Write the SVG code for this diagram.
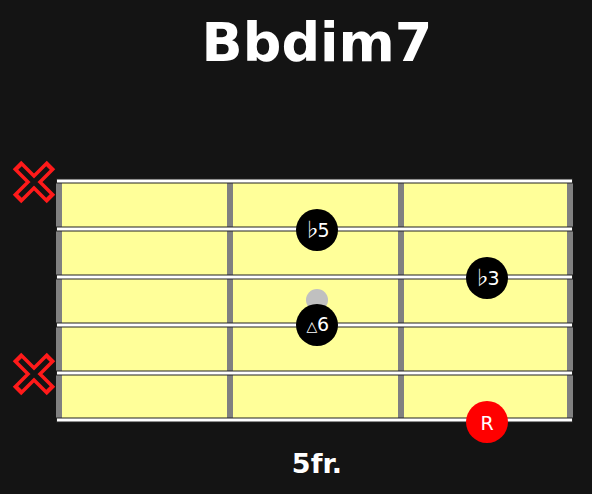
<svg xmlns="http://www.w3.org/2000/svg" width="592" height="494" viewBox="0 0 592 494">
<style>
.title{font-family:"DejaVu Sans",sans-serif;font-weight:bold;fill:#ffffff;text-anchor:middle}
.fret{fill:#808080}
.str{fill:#ffffff;stroke:#222222;stroke-width:1}
.note{fill:#000000}
.root{fill:#ff0000}
.lbl{font-family:"DejaVu Sans",sans-serif;font-size:19px;fill:#ffffff;text-anchor:middle}
.flat{font-family:"Noto Sans CJK JP","DejaVu Sans",sans-serif;font-size:19px;letter-spacing:-4px}
.tri{font-size:14px}
.xo{stroke:#ff1a1a;stroke-width:12;fill:none}
.xi{stroke:#141414;stroke-width:5;fill:none}
</style>
<rect width="592" height="494" fill="#141414"/>
<text class="title" x="317" y="61" font-size="54">Bbdim7</text>
<g id="fretboard">
<rect x="56" y="181" width="517" height="239" fill="#ffff99"/>
<rect class="fret" x="56" y="181" width="6" height="239"/>
<rect class="fret" x="227" y="181" width="6" height="239"/>
<rect class="fret" x="398" y="181" width="6" height="239"/>
<rect class="fret" x="567" y="181" width="6" height="239"/>
<circle cx="317" cy="300" r="11" fill="#c0c0c0"/>
</g>
<g id="strings">
<rect class="str" x="56.5" y="179" width="516" height="4"/>
<rect class="str" x="56.5" y="227" width="516" height="4"/>
<rect class="str" x="56.5" y="275" width="516" height="4"/>
<rect class="str" x="56.5" y="323" width="516" height="4"/>
<rect class="str" x="56.5" y="371" width="516" height="4"/>
<rect class="str" x="56.5" y="418" width="516" height="4"/>
</g>
<g id="mute1">
<path class="xo" d="M17 165 L51 199 M51 165 L17 199"/>
<path class="xi" d="M20 168 L48 196 M48 168 L20 196"/>
</g>
<g id="mute5">
<path class="xo" d="M17 357 L51 391 M51 357 L17 391"/>
<path class="xi" d="M20 360 L48 388 M48 360 L20 388"/>
</g>
<g id="n-b5">
<circle class="note" cx="317" cy="230" r="21"/>
<text class="lbl" x="316" y="236.5"><tspan class="flat">♭</tspan>5</text>
</g>
<g id="n-b3">
<circle class="note" cx="487" cy="278" r="21"/>
<text class="lbl" x="486" y="284.5"><tspan class="flat">♭</tspan>3</text>
</g>
<g id="n-d6">
<circle class="note" cx="317" cy="325" r="21"/>
<text class="lbl" y="331"><tspan class="tri" x="312">△</tspan><tspan x="323">6</tspan></text>
</g>
<g id="n-R">
<circle class="root" cx="487" cy="422" r="21"/>
<text class="lbl" x="487" y="429.5" font-size="21">R</text>
</g>
<text class="title" x="317" y="473" font-size="27">5fr.</text>
</svg>
